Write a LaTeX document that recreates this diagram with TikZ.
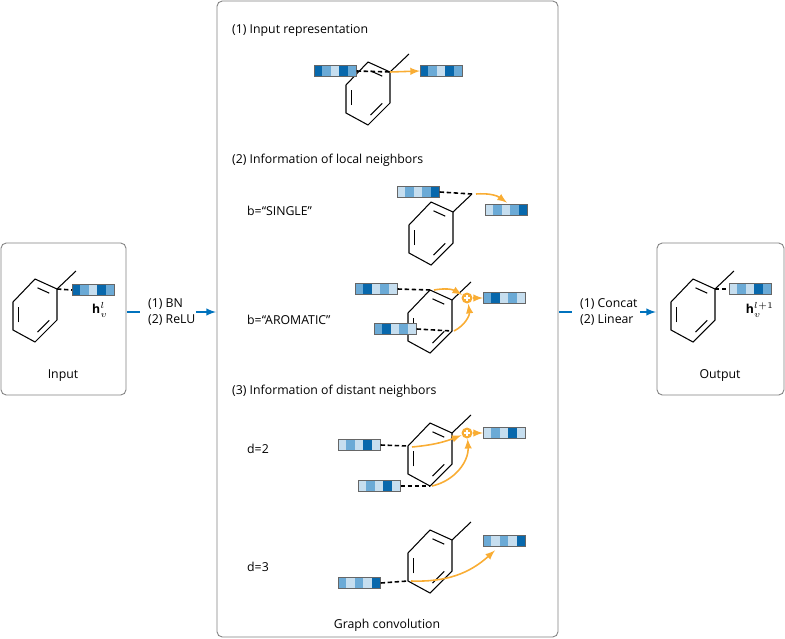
\documentclass[tikz,border=0pt]{standalone}
\usepackage{fontspec}
\setmainfont{Open Sans}
\usetikzlibrary{calc}
\usetikzlibrary{arrows}
\definecolor{vd}{RGB}{8,104,172}
\definecolor{vm}{RGB}{107,170,214}
\definecolor{vl}{RGB}{198,222,239}
\definecolor{orange}{RGB}{249,173,52}
\definecolor{flow}{RGB}{0,114,189}
\tikzstyle{boite}  =[draw=gray, rounded corners=3pt, line width=0.5pt]
\tikzstyle{lien}   =[line width=0.9pt, dash pattern=on 2.5pt off 1.5pt]
\tikzstyle{orng}   =[orange, line width=0.9pt, -latex]
\tikzstyle{flux}   =[flow, line width=0.9pt]
\tikzstyle{titre}  =[anchor=west, font=\fontsize{7}{8}\selectfont]

%cycle benzénique : nom, centre
\newcommand\cycle[2]{
\coordinate (#1-c) at #2;
\foreach \k/\dx/\dy in {1/0/-32,2/22/-22,3/22/9,4/0/31,5/-22/19,6/-22/-9}{\coordinate (#1-\k) at ($(#1-c)+(\dx,\dy)$);}
\draw[line width=0.6pt] (#1-1)--(#1-2)--(#1-3)--(#1-4)--(#1-5)--(#1-6)--cycle;
\foreach \p/\q in {1/2,3/4,5/6}{\draw[line width=0.6pt] ($(#1-c)!0.76!($(#1-\p)!0.15!(#1-\q)$)$)--($(#1-c)!0.76!($(#1-\p)!0.85!(#1-\q)$)$);}
\draw[line width=0.6pt] (#1-2)--++(19,-18) coordinate (#1-m);
}
%vecteur : nom, position (bord gauche), couleurs
\newcommand\vecteur[3]{
\node[draw=none, minimum width=0.84cm, minimum height=0.2cm, inner sep=0, anchor=west] (#1) at #2 {};
\foreach \c [count=\i] in {#3}{\fill[\c] ($(#1.north west)+({(\i-1)*8.4},0)$) rectangle +(8.4,10);}
\draw[gray!80!black, line width=0.4pt] (#1.north west) rectangle (#1.south east);
}

\begin{document}
\begin{tikzpicture}[x=0.02cm,y=-0.02cm]
\useasboundingbox (0,0) rectangle (785,639);

%%%%%%%%%%%%%%%%%%%%%%%%
%Entrée
%%%%%%%%%%%%%%%%%%%%%%%%
\draw[boite] (1,243) rectangle (126,395);
\node[titre, anchor=center] (input) at (63,376) {Input};
\cycle{in}{(35,311)}
\vecteur{hin}{(72,290)}{vd,vm,vl,vd,vm}
\draw[lien] (in-2)--(hin.west);
\node[font=\fontsize{7}{8}\selectfont, inner sep=0] (hl) at (100,310) {$\mathbf{h}_v^{l}$};

\coordinate (a1) at (127,312);
\coordinate (a2) at (140,312);
\coordinate (a3) at (196,312);
\coordinate (a4) at (216,312);
\draw[flux] (a1)--(a2);
\draw[flux,-latex] (a3)--(a4);
\node[titre] (bn) at (142,304) {(1) BN};
\node[titre] (relu) at (142,320) {(2) ReLU};

%%%%%%%%%%%%%%%%%%%%%%%%
%Convolution
%%%%%%%%%%%%%%%%%%%%%%%%
\draw[boite] (217,1) rectangle (558,637);
\node[titre] (t1) at (226,30) {(1) Input representation};
\node[titre] (t2) at (226,160) {(2) Information of local neighbors};
\node[titre] (t3) at (226,391) {(3) Information of distant neighbors};
\node[titre] (single) at (241,211) {b=“SINGLE”};
\node[titre] (arom) at (241,320) {b=“AROMATIC”};
\node[titre] (d2) at (241,449) {d=2};
\node[titre] (d3) at (241,567) {d=3};
\node[titre, anchor=center] (gc) at (387,625) {Graph convolution};

%(1)
\cycle{r1}{(368,94)}
\vecteur{v1a}{(314,71)}{vd,vm,vl,vd,vm}
\vecteur{v1b}{(420,71)}{vd,vm,vl,vd,vm}
\draw[lien] (v1a.east)--(r1-2);
\draw[orng] (r1-2)--(v1b.west);

%(2) simple
\cycle{r2}{(431,234)}
\vecteur{v2a}{(397,192)}{vl,vm,vl,vm,vd}
\vecteur{v2b}{(485,210)}{vl,vm,vl,vm,vd}
\draw[lien] (v2a.east)--(r2-m);
\draw[orng] ($(r2-m)+(4,0)$) to[bend left=20] ($(v2b.north west)+(22,-2)$);

%(2) aromatique
\cycle{r3}{(430,322)}
\vecteur{v3a}{(355,289)}{vm,vd,vl,vm,vl}
\vecteur{v3b}{(374,329)}{vm,vd,vl,vm,vl}
\vecteur{v3c}{(483,298)}{vm,vd,vl,vm,vl}
\draw[lien] (v3a.east)--(r3-1);
\draw[lien] (v3b.east)--(r3-3);
\node[circle, fill=orange, inner sep=0, minimum size=0.22cm] (p3) at (467,298) {};
\draw[white, line width=0.6pt] ($(p3)+(-3,0)$)--+(6,0) ($(p3)+(0,-3)$)--+(0,6);
\draw[orng] ($(r3-1)+(4,0)$) to[bend left=20] (p3);
\draw[orng] ($(r3-3)+(2,0)$) to[bend right=35] (p3);
\draw[orng] (p3)--(v3c);

%(3) d=2
\cycle{r4}{(430,455)}
\vecteur{v4a}{(338,445)}{vl,vm,vl,vd,vl}
\vecteur{v4b}{(358,486)}{vl,vm,vl,vd,vl}
\vecteur{v4c}{(483,433)}{vl,vm,vl,vd,vl}
\draw[lien] (v4a.east)--(r4-6);
\draw[lien] (v4b.east)--(r4-4);
\node[circle, fill=orange, inner sep=0, minimum size=0.22cm] (p4) at (467,433) {};
\draw[white, line width=0.6pt] ($(p4)+(-3,0)$)--+(6,0) ($(p4)+(0,-3)$)--+(0,6);
\draw[orng] ($(r4-6)+(4,1)$) to[bend left=-8] (p4);
\draw[orng] ($(r4-4)+(2,0)$) to[bend right=40] (p4);
\draw[orng] (p4)--(v4c);

%(3) d=3
\cycle{r5}{(430,562)}
\vecteur{v5a}{(338,583)}{vm,vl,vm,vl,vd}
\vecteur{v5b}{(483,541)}{vm,vl,vm,vl,vd}
\draw[lien] (v5a.east)--(r5-5);
\draw[orng] ($(r5-5)+(3,0)$) to[bend right=22] ($(v5b.south west)+(12,4)$);

%%%%%%%%%%%%%%%%%%%%%%%%
%Sortie
%%%%%%%%%%%%%%%%%%%%%%%%
\coordinate (b1) at (559,312);
\coordinate (b2) at (572,312);
\coordinate (b3) at (640,312);
\coordinate (b4) at (656,312);
\draw[flux] (b1)--(b2);
\draw[flux,-latex] (b3)--(b4);
\node[titre] (concat) at (574,304) {(1) Concat};
\node[titre] (linear) at (574,320) {(2) Linear};

\draw[boite] (657,243) rectangle (784,395);
\node[titre, anchor=center] (output) at (720,376) {Output};
\cycle{out}{(693,311)}
\vecteur{hout}{(729,289)}{vl,vm,vl,vd,vm}
\draw[lien] (out-2)--(hout.west);
\node[font=\fontsize{7}{8}\selectfont, inner sep=0] (hl1) at (760,310) {$\mathbf{h}_v^{l+1}$};
\end{tikzpicture}
\end{document}
